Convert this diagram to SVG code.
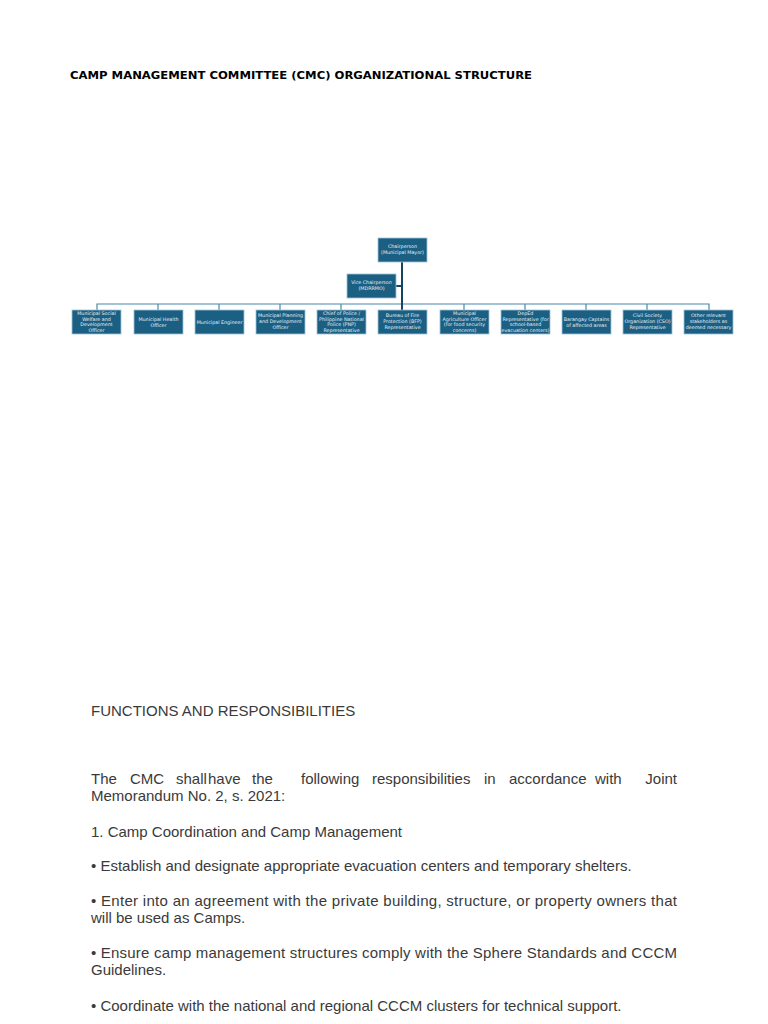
<svg xmlns="http://www.w3.org/2000/svg" width="768" height="1024" viewBox="0 0 768 1024">
<style>
.bx{fill:#1b5f83;stroke:#9fc3d6;stroke-width:0.8}
.bt{font-family:"DejaVu Sans",sans-serif;font-size:4.8px;fill:#e8f1f6;text-anchor:middle}
.ln{stroke:#4a88aa;stroke-width:1.2;fill:none}
.tr{stroke:#17445f;stroke-width:2;fill:none}
.p{font-family:"Liberation Sans",Arial,sans-serif;font-size:15px;fill:#3a3a3a}
</style>
<rect width="768" height="1024" fill="#fff"/>
<text x="70" y="79" font-family="DejaVu Sans,sans-serif" font-weight="bold" font-size="10.5" fill="#000" textLength="462" lengthAdjust="spacingAndGlyphs">CAMP MANAGEMENT COMMITTEE (CMC) ORGANIZATIONAL STRUCTURE</text>
<g id="connectors">
<path class="ln" d="M97 310V304H709V310M158 304V310M219 304V310M280 304V310M341 304V310M464 304V310M525 304V310M586 304V310M647 304V310"/>
<path class="tr" d="M402 262V310M396 286H402"/>
</g>
<g id="chair"><rect class="bx" x="378" y="238" width="49" height="24"/><text class="bt" x="402.5" y="248">Chairperson</text><text class="bt" x="402.5" y="254">(Municipal Mayor)</text></g>
<g id="vice"><rect class="bx" x="347" y="274" width="49" height="24"/><text class="bt" x="371.5" y="284">Vice Chairperson</text><text class="bt" x="371.5" y="290">(MDRRMO)</text></g>
<g id="n1"><rect class="bx" x="72" y="310" width="49" height="24"/><text class="bt" x="96.5" y="315">Municipal Social</text><text class="bt" x="96.5" y="320.5">Welfare and</text><text class="bt" x="96.5" y="326">Development</text><text class="bt" x="96.5" y="331.5">Officer</text></g>
<g id="n2"><rect class="bx" x="134" y="310" width="49" height="24"/><text class="bt" x="158.5" y="321">Municipal Health</text><text class="bt" x="158.5" y="327">Officer</text></g>
<g id="n3"><rect class="bx" x="195" y="310" width="49" height="24"/><text class="bt" x="219.5" y="323.5">Municipal Engineer</text></g>
<g id="n4"><rect class="bx" x="256" y="310" width="49" height="24"/><text class="bt" x="280.5" y="317">Municipal Planning</text><text class="bt" x="280.5" y="323">and Development</text><text class="bt" x="280.5" y="329">Officer</text></g>
<g id="n5"><rect class="bx" x="317" y="310" width="49" height="24"/><text class="bt" x="341.5" y="315">Chief of Police /</text><text class="bt" x="341.5" y="320.5">Philippine National</text><text class="bt" x="341.5" y="326">Police (PNP)</text><text class="bt" x="341.5" y="331.5">Representative</text></g>
<g id="n6"><rect class="bx" x="378" y="310" width="49" height="24"/><text class="bt" x="402.5" y="317">Bureau of Fire</text><text class="bt" x="402.5" y="323">Protection (BFP)</text><text class="bt" x="402.5" y="329">Representative</text></g>
<g id="n7"><rect class="bx" x="440" y="310" width="49" height="24"/><text class="bt" x="464.5" y="315">Municipal</text><text class="bt" x="464.5" y="320.5">Agriculture Officer</text><text class="bt" x="464.5" y="326">(for food security</text><text class="bt" x="464.5" y="331.5">concerns)</text></g>
<g id="n8"><rect class="bx" x="501" y="310" width="49" height="24"/><text class="bt" x="525.5" y="315">DepEd</text><text class="bt" x="525.5" y="320.5">Representative (for</text><text class="bt" x="525.5" y="326">school-based</text><text class="bt" x="525.5" y="331.5">evacuation centers)</text></g>
<g id="n9"><rect class="bx" x="562" y="310" width="49" height="24"/><text class="bt" x="586.5" y="321">Barangay Captains</text><text class="bt" x="586.5" y="327">of affected areas</text></g>
<g id="n10"><rect class="bx" x="623" y="310" width="49" height="24"/><text class="bt" x="647.5" y="317">Civil Society</text><text class="bt" x="647.5" y="323">Organization (CSO)</text><text class="bt" x="647.5" y="329">Representative</text></g>
<g id="n11"><rect class="bx" x="684" y="310" width="49" height="24"/><text class="bt" x="708.5" y="317">Other relevant</text><text class="bt" x="708.5" y="323">stakeholders as</text><text class="bt" x="708.5" y="329">deemed necessary</text></g>
<text class="p" x="91" y="716">FUNCTIONS AND RESPONSIBILITIES</text>
<text class="p" y="784"><tspan x="91">The</tspan><tspan x="130">CMC</tspan><tspan x="176">shall</tspan><tspan x="208">have</tspan><tspan x="252">the</tspan><tspan x="301">following</tspan><tspan x="372">responsibilities</tspan><tspan x="484">in</tspan><tspan x="509">accordance</tspan><tspan x="595">with</tspan></text>
<text class="p" x="677" y="784" text-anchor="end">Joint</text>
<text class="p" x="91" y="801">Memorandum No. 2, s. 2021:</text>
<text class="p" x="91" y="837">1. Camp Coordination and Camp Management</text>
<text class="p" x="91" y="871">• Establish and designate appropriate evacuation centers and temporary shelters.</text>
<text class="p" x="91" y="906" textLength="586" lengthAdjust="spacing">• Enter into an agreement with the private building, structure, or property owners that</text>
<text class="p" x="91" y="923">will be used as Camps.</text>
<text class="p" x="91" y="958" textLength="586" lengthAdjust="spacing">• Ensure camp management structures comply with the Sphere Standards and CCCM</text>
<text class="p" x="91" y="975">Guidelines.</text>
<text class="p" x="91" y="1011">• Coordinate with the national and regional CCCM clusters for technical support.</text>
</svg>
